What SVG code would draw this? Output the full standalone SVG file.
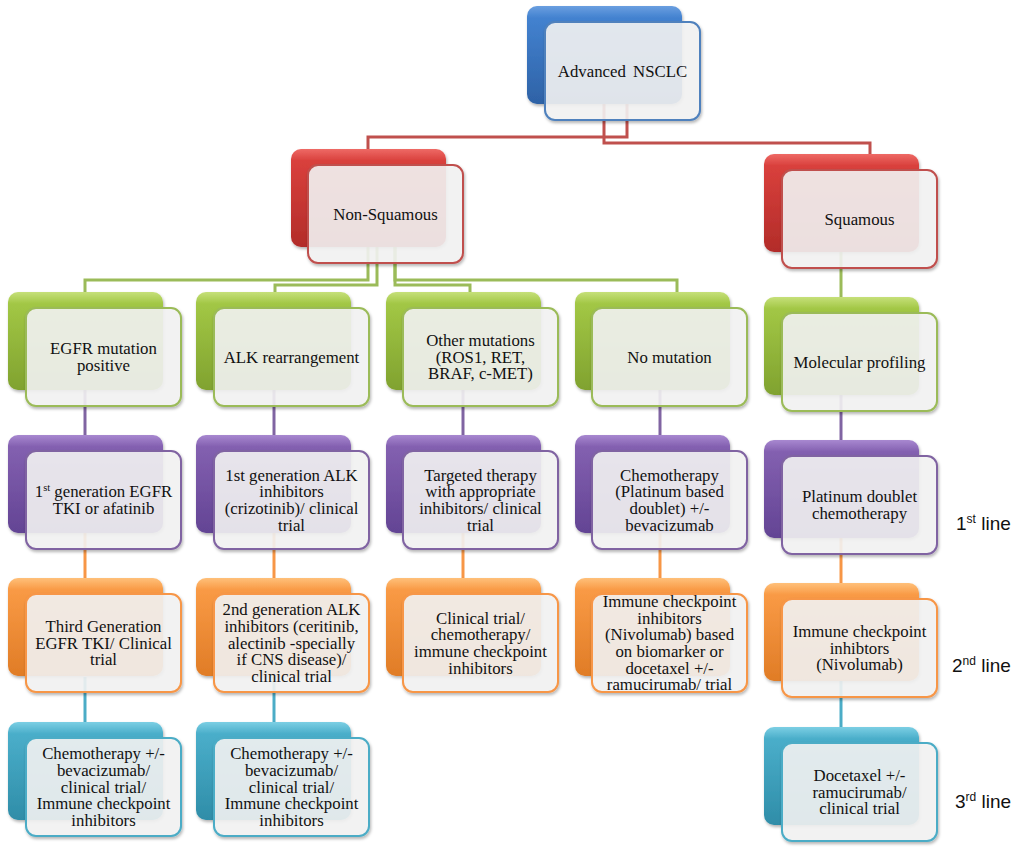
<svg xmlns="http://www.w3.org/2000/svg" width="1024" height="847" viewBox="0 0 1024 847">
<defs>
<linearGradient id="gBlue" x1="0" y1="0" x2="0" y2="1"><stop offset="0" stop-color="#6A9FE0"/><stop offset="0.12" stop-color="#4382D0"/><stop offset="1" stop-color="#2E62A6"/></linearGradient>
<linearGradient id="gRed" x1="0" y1="0" x2="0" y2="1"><stop offset="0" stop-color="#EE6A66"/><stop offset="0.12" stop-color="#D9403C"/><stop offset="1" stop-color="#B22C29"/></linearGradient>
<linearGradient id="gGreen" x1="0" y1="0" x2="0" y2="1"><stop offset="0" stop-color="#C6E07A"/><stop offset="0.12" stop-color="#A2C745"/><stop offset="1" stop-color="#80A22F"/></linearGradient>
<linearGradient id="gPurple" x1="0" y1="0" x2="0" y2="1"><stop offset="0" stop-color="#A888D0"/><stop offset="0.12" stop-color="#8360B0"/><stop offset="1" stop-color="#634494"/></linearGradient>
<linearGradient id="gOrange" x1="0" y1="0" x2="0" y2="1"><stop offset="0" stop-color="#FFC07A"/><stop offset="0.12" stop-color="#F99A45"/><stop offset="1" stop-color="#E07C26"/></linearGradient>
<linearGradient id="gCyan" x1="0" y1="0" x2="0" y2="1"><stop offset="0" stop-color="#7CCFE4"/><stop offset="0.12" stop-color="#4AAECA"/><stop offset="1" stop-color="#2F8DA8"/></linearGradient>
<filter id="sh" x="-10%" y="-10%" width="125%" height="130%"><feDropShadow dx="1" dy="2" stdDeviation="1.5" flood-color="#000" flood-opacity="0.3"/></filter>
</defs>
<style>
.c{fill:none;stroke-width:3}
.cr{stroke:#C0504D}.cg{stroke:#9BBB59}.cp{stroke:#8064A2}.co{stroke:#F79646}.cc{stroke:#4BACC6}
.bk{rx:10px;ry:10px;filter:url(#sh)}
.fr{rx:10px;ry:10px;fill:#F5F5F5;fill-opacity:0.88;stroke-width:2;filter:url(#sh)}
.sb{stroke:#4F81BD}.sr{stroke:#C0504D}.sg{stroke:#9BBB59}.sp{stroke:#8064A2}.so{stroke:#F79646}.sc{stroke:#4BACC6}
.t{font-family:"Liberation Serif","Times New Roman",serif;font-size:16.8px;fill:#111;text-anchor:middle}
.lb{font-family:"Liberation Sans",Arial,sans-serif;font-size:19px;fill:#111}
</style>
<g id="connectors">
<path class="c cr" d="M627,104 V137 H368 V150"/>
<path class="c cr" d="M604,104 V143 H870 V155"/>
<path class="c cg" d="M368,247 V280 H85 V293"/>
<path class="c cg" d="M377,247 V285 H275 V293"/>
<path class="c cg" d="M395,247 V285 H470 V293"/>
<path class="c cg" d="M395,247 V280 H677 V293"/>
<path class="c cg" d="M841,252 V298"/>
<path class="c cp" d="M85,390 V436"/>
<path class="c cp" d="M274,390 V436"/>
<path class="c cp" d="M463,390 V436"/>
<path class="c cp" d="M660,390 V436"/>
<path class="c cp" d="M841,395 V441"/>
<path class="c co" d="M85,533 V579"/>
<path class="c co" d="M274,533 V579"/>
<path class="c co" d="M463,533 V579"/>
<path class="c co" d="M660,533 V579"/>
<path class="c co" d="M841,537 V584"/>
<path class="c cc" d="M85,677 V723"/>
<path class="c cc" d="M274,677 V723"/>
<path class="c cc" d="M841,681 V728"/>
</g>
<g id="n-advanced"><rect class="bk" x="527" y="6" width="155" height="98" fill="url(#gBlue)"/><rect class="fr sb" x="545" y="22" width="155" height="98"/><text class="t" x="622.5" y="76.5" word-spacing="3">Advanced NSCLC</text></g>
<g id="n-nonsq"><rect class="bk" x="291" y="149" width="155" height="98" fill="url(#gRed)"/><rect class="fr sr" x="308" y="165" width="155" height="98"/><text class="t" x="385.5" y="219.5">Non-Squamous</text></g>
<g id="n-sq"><rect class="bk" x="764" y="154" width="155" height="98" fill="url(#gRed)"/><rect class="fr sr" x="782" y="170" width="155" height="98"/><text class="t" x="859.5" y="224.5">Squamous</text></g>

<g id="n-egfr"><rect class="bk" x="8" y="292" width="155" height="98" fill="url(#gGreen)"/><rect class="fr sg" x="26" y="308" width="155" height="98"/><text class="t"><tspan x="103.5" y="354.2">EGFR mutation</tspan><tspan x="103.5" y="370.9">positive</tspan></text></g>
<g id="n-alk"><rect class="bk" x="196" y="292" width="155" height="98" fill="url(#gGreen)"/><rect class="fr sg" x="214" y="308" width="155" height="98"/><text class="t" x="291.5" y="362.5">ALK rearrangement</text></g>
<g id="n-other"><rect class="bk" x="386" y="292" width="155" height="98" fill="url(#gGreen)"/><rect class="fr sg" x="403" y="308" width="155" height="98"/><text class="t"><tspan x="480.5" y="345.8">Other mutations</tspan><tspan x="480.5" y="362.5">(ROS1, RET,</tspan><tspan x="480.5" y="379.2">BRAF, c-MET)</tspan></text></g>
<g id="n-nomut"><rect class="bk" x="575" y="292" width="155" height="98" fill="url(#gGreen)"/><rect class="fr sg" x="592" y="308" width="155" height="98"/><text class="t" x="669.5" y="362.5">No mutation</text></g>
<g id="n-molprof"><rect class="bk" x="764" y="297" width="155" height="98" fill="url(#gGreen)"/><rect class="fr sg" x="782" y="313" width="155" height="98"/><text class="t" x="859.5" y="367.5">Molecular profiling</text></g>

<g id="n-egfr1"><rect class="bk" x="8" y="435" width="155" height="98" fill="url(#gPurple)"/><rect class="fr sp" x="26" y="451" width="155" height="98"/><text class="t"><tspan x="103.5" y="497.2">1<tspan font-size="10.5" dy="-6">st</tspan><tspan dy="6"> generation EGFR</tspan></tspan><tspan x="103.5" y="513.9">TKI  or afatinib</tspan></text></g>
<g id="n-alk1"><rect class="bk" x="196" y="435" width="155" height="98" fill="url(#gPurple)"/><rect class="fr sp" x="214" y="451" width="155" height="98"/><text class="t"><tspan x="291.5" y="480.5">1st generation ALK</tspan><tspan x="291.5" y="497.2">inhibitors</tspan><tspan x="291.5" y="513.9">(crizotinib)/ clinical</tspan><tspan x="291.5" y="530.6">trial</tspan></text></g>
<g id="n-other1"><rect class="bk" x="386" y="435" width="155" height="98" fill="url(#gPurple)"/><rect class="fr sp" x="403" y="451" width="155" height="98"/><text class="t"><tspan x="480.5" y="480.5">Targeted therapy</tspan><tspan x="480.5" y="497.2">with appropriate</tspan><tspan x="480.5" y="513.9">inhibitors/ clinical</tspan><tspan x="480.5" y="530.6">trial</tspan></text></g>
<g id="n-nomut1"><rect class="bk" x="575" y="435" width="155" height="98" fill="url(#gPurple)"/><rect class="fr sp" x="592" y="451" width="155" height="98"/><text class="t"><tspan x="669.5" y="480.5">Chemotherapy</tspan><tspan x="669.5" y="497.2">(Platinum based</tspan><tspan x="669.5" y="513.9">doublet) +/-</tspan><tspan x="669.5" y="530.6">bevacizumab</tspan></text></g>
<g id="n-sq1"><rect class="bk" x="764" y="440" width="155" height="98" fill="url(#gPurple)"/><rect class="fr sp" x="782" y="456" width="155" height="98"/><text class="t"><tspan x="859.5" y="502.2">Platinum doublet</tspan><tspan x="859.5" y="518.9">chemotherapy</tspan></text></g>

<g id="n-egfr2"><rect class="bk" x="8" y="578" width="155" height="98" fill="url(#gOrange)"/><rect class="fr so" x="26" y="594" width="155" height="98"/><text class="t"><tspan x="103.5" y="631.8">Third Generation</tspan><tspan x="103.5" y="648.5">EGFR TKI/ Clinical</tspan><tspan x="103.5" y="665.2">trial</tspan></text></g>
<g id="n-alk2"><rect class="bk" x="196" y="578" width="155" height="98" fill="url(#gOrange)"/><rect class="fr so" x="214" y="594" width="155" height="98"/><text class="t"><tspan x="291.5" y="615.1">2nd generation ALK</tspan><tspan x="291.5" y="631.8">inhibitors (ceritinib,</tspan><tspan x="291.5" y="648.5">alectinib -specially</tspan><tspan x="291.5" y="665.2">if CNS  disease)/</tspan><tspan x="291.5" y="681.9">clinical trial</tspan></text></g>
<g id="n-other2"><rect class="bk" x="386" y="578" width="155" height="98" fill="url(#gOrange)"/><rect class="fr so" x="403" y="594" width="155" height="98"/><text class="t"><tspan x="480.5" y="623.5">Clinical trial/</tspan><tspan x="480.5" y="640.2">chemotherapy/</tspan><tspan x="480.5" y="656.9">immune checkpoint</tspan><tspan x="480.5" y="673.6">inhibitors</tspan></text></g>
<g id="n-nomut2"><rect class="bk" x="575" y="578" width="155" height="98" fill="url(#gOrange)"/><rect class="fr so" x="592" y="594" width="155" height="98"/><text class="t"><tspan x="669.5" y="606.8">Immune checkpoint</tspan><tspan x="669.5" y="623.5">inhibitors</tspan><tspan x="669.5" y="640.2">(Nivolumab) based</tspan><tspan x="669.5" y="656.9">on biomarker or</tspan><tspan x="669.5" y="673.6">docetaxel +/-</tspan><tspan x="669.5" y="690.3">ramucirumab/ trial</tspan></text></g>
<g id="n-sq2"><rect class="bk" x="764" y="583" width="155" height="98" fill="url(#gOrange)"/><rect class="fr so" x="782" y="599" width="155" height="98"/><text class="t"><tspan x="859.5" y="636.8">Immune checkpoint</tspan><tspan x="859.5" y="653.5">inhibtors</tspan><tspan x="859.5" y="670.2">(Nivolumab)</tspan></text></g>

<g id="n-egfr3"><rect class="bk" x="8" y="722" width="155" height="98" fill="url(#gCyan)"/><rect class="fr sc" x="26" y="738" width="155" height="98"/><text class="t"><tspan x="103.5" y="759.1">Chemotherapy +/-</tspan><tspan x="103.5" y="775.8">bevacizumab/</tspan><tspan x="103.5" y="792.5">clinical trial/</tspan><tspan x="103.5" y="809.2">Immune checkpoint</tspan><tspan x="103.5" y="825.9">inhibitors</tspan></text></g>
<g id="n-alk3"><rect class="bk" x="196" y="722" width="155" height="98" fill="url(#gCyan)"/><rect class="fr sc" x="214" y="738" width="155" height="98"/><text class="t"><tspan x="291.5" y="759.1">Chemotherapy +/-</tspan><tspan x="291.5" y="775.8">bevacizumab/</tspan><tspan x="291.5" y="792.5">clinical trial/</tspan><tspan x="291.5" y="809.2">Immune checkpoint</tspan><tspan x="291.5" y="825.9">inhibitors</tspan></text></g>
<g id="n-sq3"><rect class="bk" x="764" y="727" width="155" height="98" fill="url(#gCyan)"/><rect class="fr sc" x="782" y="743" width="155" height="98"/><text class="t"><tspan x="859.5" y="780.8">Docetaxel +/-</tspan><tspan x="859.5" y="797.5">ramucirumab/</tspan><tspan x="859.5" y="814.2">clinical trial</tspan></text></g>

<g id="line-labels">
<text class="lb" x="956" y="530">1<tspan font-size="12" dy="-7">st</tspan><tspan dy="7"> line</tspan></text>
<text class="lb" x="952" y="672">2<tspan font-size="12" dy="-7">nd</tspan><tspan dy="7"> line</tspan></text>
<text class="lb" x="955" y="808">3<tspan font-size="12" dy="-7">rd</tspan><tspan dy="7"> line</tspan></text>
</g>
</svg>
